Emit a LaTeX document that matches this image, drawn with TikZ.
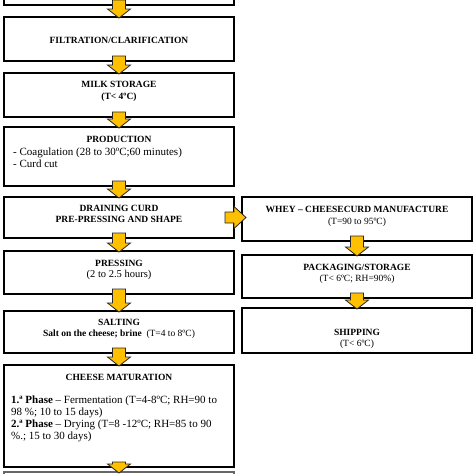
\documentclass[tikz,border=0pt]{standalone}
\usepackage{fontspec}
\setmainfont{Liberation Serif}
\usepackage{xcolor}
\usetikzlibrary{positioning, calc}
\definecolor{arrowgold}{RGB}{255,192,0}

\tikzset{
  box/.style={draw, line width=2pt, minimum width=230pt, inner sep=0pt},
  head/.style={font=\fontsize{9.5}{12}\selectfont\bfseries, align=center, inner sep=0pt},
  sub/.style={font=\fontsize{9.5}{12}\selectfont, align=center, inner sep=0pt},
  blk/.style={fill=arrowgold, draw=black!85, line width=0.8pt, line join=miter},
}

% block arrows between boxes
\newcommand{\flowdown}[2]{%
\draw[blk] let \p1=($(#1)+(0,-6)$), \p2=($(#2)+(0,2)$) in
  (\x1-6.5pt,\y1) -- (\x1+6.5pt,\y1) -- (\x1+6.5pt,\y2+9pt) -- (\x1+11.5pt,\y2+9pt)
  -- (\x1,\y2) -- (\x1-11.5pt,\y2+9pt) -- (\x1-6.5pt,\y2+9pt) -- cycle;}
\newcommand{\flowright}[2]{%
\draw[blk] let \p1=($(#1)+(-10,0)$), \p2=($(#2)+(5,0)$) in
  (\x1,\y1+5.5pt) -- (\x2-12pt,\y1+5.5pt) -- (\x2-12pt,\y1+11pt) -- (\x2,\y1)
  -- (\x2-12pt,\y1-11pt) -- (\x2-12pt,\y1-5.5pt) -- (\x1,\y1-5.5pt) -- cycle;}

\begin{document}
\begin{tikzpicture}[x=1pt, y=-1pt]
\useasboundingbox (0,0) rectangle (474,474);
\clip (0,0) rectangle (474,474);

% Left column
\node[box, minimum height=40pt] (raw) at (119,-15) {};
\node[box, minimum height=44pt] (filt) at (119,39) {};
\node[box, minimum height=44pt] (milk) at (119,95) {};
\node[box, minimum height=59pt] (prod) at (119,156.5) {};
\node[box, minimum height=41pt] (drain) at (119,217.5) {};
\node[box, minimum height=43pt] (press) at (119,272.5) {};
\node[box, minimum height=42pt] (salt) at (119,332) {};
\node[box, minimum height=102pt] (mat) at (119,416) {};
\node[box, minimum height=40pt, draw=black!60] (final) at (119,492) {};

% Right column
\node[box, minimum height=44pt] (whey) at (357,219) {};
\node[box, minimum height=43pt] (pack) at (357,276.5) {};
\node[box, minimum height=45pt] (ship) at (357,330.5) {};

% Texts
\node[head] (filttxt) at (119,40) {FILTRATION/CLARIFICATION};
\node[head] (milktxt) at (119,91.5) {MILK STORAGE\\(T< 4ºC)};
\node[head] (prodtxt) at (119,139) {PRODUCTION};
\node[sub, align=left, anchor=west, font=\fontsize{11}{11.5}\selectfont] (prodlist) at (13,157.5)
  {- Coagulation (28 to 30ºC;60 minutes)\\- Curd cut};
\node[head, font=\fontsize{9.5}{11}\selectfont\bfseries] (draintxt) at (119,213.5) {DRAINING CURD\\PRE-PRESSING AND SHAPE};
\node[head] (presstxt) at (119,263) {PRESSING};
\node[sub, font=\fontsize{10.5}{12}\selectfont] (presssub) at (119,275) {(2 to 2.5 hours)};
\node[head] (salttxt) at (119,322) {SALTING};
\node[sub, font=\fontsize{9.5}{11}\selectfont] (saltsub) at (119,334)
  {\textbf{Salt on the cheese; brine}\ \ (T=4 to 8ºC)};
\node[head] (mattxt) at (119,377) {CHEESE MATURATION};
\node[sub, align=left, anchor=west, font=\fontsize{11}{12}\selectfont] (matlist) at (11,419)
  {\textbf{1.ª Phase} – Fermentation (T=4-8ºC; RH=90 to\\98 \%; 10 to 15 days)\\
   \textbf{2.ª Phase} – Drying (T=8 -12ºC; RH=85 to 90\\\%.; 15 to 30 days)};
\node[head] (wheytxt) at (357,209) {WHEY – CHEESECURD MANUFACTURE};
\node[sub] (wheysub) at (357,222) {(T=90 to 95ºC)};
\node[head] (packtxt) at (357,267) {PACKAGING/STORAGE};
\node[sub] (packsub) at (357,279) {(T< 6ºC; RH=90\%)};
\node[head] (shiptxt) at (357,332) {SHIPPING};
\node[sub] (shipsub) at (357,344) {(T< 6ºC)};

% Arrows
\flowdown{raw.south}{filt.north}
\flowdown{filt.south}{milk.north}
\flowdown{milk.south}{prod.north}
\flowdown{prod.south}{drain.north}
\flowdown{drain.south}{press.north}
\flowdown{press.south}{salt.north}
\flowdown{salt.south}{mat.north}
\flowdown{mat.south}{final.north}
\flowright{drain.east}{whey.west}
\flowdown{whey.south}{pack.north}
\flowdown{pack.south}{ship.north}
\end{tikzpicture}
\end{document}
